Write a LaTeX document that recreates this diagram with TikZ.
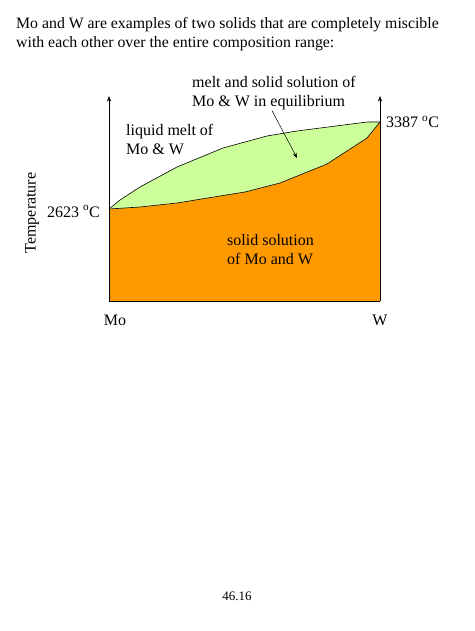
\documentclass[tikz,border=0pt]{standalone}
\usepackage{fontspec}
\setmainfont{Liberation Serif}
\usetikzlibrary{arrows.meta}
\definecolor{meltgreen}{RGB}{204,255,153}
\definecolor{solidorange}{RGB}{255,153,0}

\begin{document}
\begin{tikzpicture}[x=1pt,y=-1pt,>=Stealth,
  font=\fontsize{16}{19}\selectfont,
  lbl/.style={align=left,inner sep=0pt,anchor=base west},
  ax/.style={->,line width=0.6pt}]
\useasboundingbox (0,0) rectangle (474,631);
\coordinate (mo0) at (109,301);
\coordinate (mo1) at (109,96);
\coordinate (w0) at (380,301);
\coordinate (w1) at (380,96);
\coordinate (mp) at (109,209);
\coordinate (wp) at (380,122);
% solid region and two-phase region
\fill[solidorange] (mo0) -- (mp) -- (140,207) -- (177,203) -- (220,196) -- (245,192)
  -- (280,183) -- (327,164) -- (367,138) -- (wp) -- (w0) -- cycle;
\fill[meltgreen] (mp) -- (120,200) -- (140,187) -- (177,167) -- (223,148) -- (267,136)
  -- (297,131) -- (367,122) -- (wp) -- (367,138) -- (327,164) -- (280,183) -- (245,192)
  -- (220,196) -- (177,203) -- (140,207) -- cycle;
% liquidus and solidus
\draw[line width=0.6pt] (mp) -- (120,200) -- (140,187) -- (177,167) -- (223,148) -- (267,136)
  -- (297,131) -- (367,122) -- (wp);
\draw[line width=0.6pt] (mp) -- (140,207) -- (177,203) -- (220,196) -- (245,192)
  -- (280,183) -- (327,164) -- (367,138) -- (wp);
% axes
\draw[ax] (mo0) -- (mo1);
\draw[ax] (w0) -- (w1);
\draw[line width=0.6pt] (mo0) -- (w0);
% texts (base anchor = last line)
\node[lbl,font=\fontsize{15.8}{19}\selectfont] (title) at (16,48)
  {Mo and W are examples of two solids that are completely miscible\\
   with each other over the entire composition range:};
\node[lbl] (liq) at (126,155) {liquid melt of\\Mo \& W};
\node[lbl] (eq) at (192,107) {melt and solid solution of\\Mo \& W in equilibrium};
\node[lbl] (sol) at (227,264) {solid solution\\of Mo and W};
\node[lbl] (tw) at (386,128) {3387 $^{\rm o}$C};
\node[lbl,anchor=base east] (tmo) at (100,217) {2623 $^{\rm o}$C};
\node[rotate=90] (temp) at (32,213) {Temperature};
\node[anchor=base] (mo) at (115,325) {Mo};
\node[anchor=base] (w) at (380,325) {W};
\node[anchor=base,font=\fontsize{13}{15}\selectfont] (page) at (237,600) {46.16};
\coordinate (eqpt) at (297,158);
\draw[->,line width=0.5pt] (eq.south -| 272,0) -- (eqpt);
\end{tikzpicture}
\end{document}
